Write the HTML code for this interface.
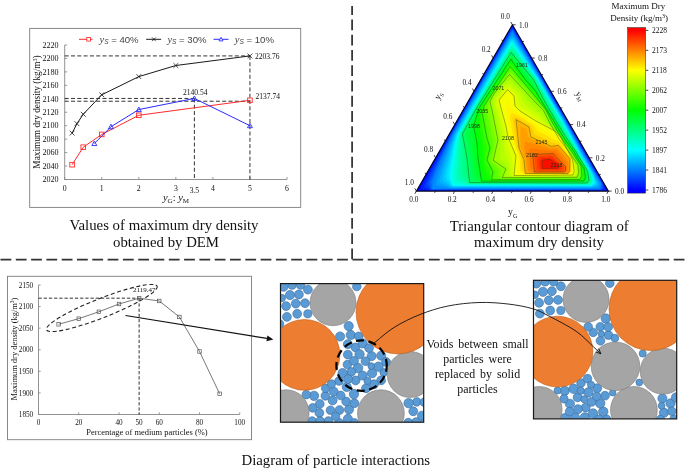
<!DOCTYPE html>
<html lang="en"><head><meta charset="utf-8"><title>Graphical abstract</title>
<style>
html,body{margin:0;padding:0;background:#fff;}
body{width:685px;height:469px;overflow:hidden;}
svg{display:block;}
.se{font-family:"Liberation Serif", serif;}
.sa{font-family:"Liberation Sans", sans-serif;}
</style></head><body>
<svg width="685" height="469" viewBox="0 0 685 469">
<rect x="0" y="0" width="685" height="469" fill="#fff"/>
<g id="chart1">
<rect x="29.7" y="28.4" width="271" height="179" fill="#fff" stroke="#7d7d7d" stroke-width="0.9"/>
<line x1="64.7" y1="45" x2="64.7" y2="179.5" stroke="#808080" stroke-width="0.85" />
<line x1="64.7" y1="179.5" x2="287" y2="179.5" stroke="#808080" stroke-width="0.85" />
<line x1="64.7" y1="179.5" x2="67.2" y2="179.5" stroke="#808080" stroke-width="0.8" />
<text class="se" x="58.6" y="182.2" font-size="8.1" text-anchor="end" fill="#111" >2020</text>
<line x1="64.7" y1="166.05" x2="67.2" y2="166.05" stroke="#808080" stroke-width="0.8" />
<text class="se" x="58.6" y="168.75" font-size="8.1" text-anchor="end" fill="#111" >2040</text>
<line x1="64.7" y1="152.6" x2="67.2" y2="152.6" stroke="#808080" stroke-width="0.8" />
<text class="se" x="58.6" y="155.3" font-size="8.1" text-anchor="end" fill="#111" >2060</text>
<line x1="64.7" y1="139.15" x2="67.2" y2="139.15" stroke="#808080" stroke-width="0.8" />
<text class="se" x="58.6" y="141.85" font-size="8.1" text-anchor="end" fill="#111" >2080</text>
<line x1="64.7" y1="125.7" x2="67.2" y2="125.7" stroke="#808080" stroke-width="0.8" />
<text class="se" x="58.6" y="128.4" font-size="8.1" text-anchor="end" fill="#111" >2100</text>
<line x1="64.7" y1="112.25" x2="67.2" y2="112.25" stroke="#808080" stroke-width="0.8" />
<text class="se" x="58.6" y="114.95" font-size="8.1" text-anchor="end" fill="#111" >2120</text>
<line x1="64.7" y1="98.8" x2="67.2" y2="98.8" stroke="#808080" stroke-width="0.8" />
<text class="se" x="58.6" y="101.5" font-size="8.1" text-anchor="end" fill="#111" >2140</text>
<line x1="64.7" y1="85.35" x2="67.2" y2="85.35" stroke="#808080" stroke-width="0.8" />
<text class="se" x="58.6" y="88.05" font-size="8.1" text-anchor="end" fill="#111" >2160</text>
<line x1="64.7" y1="71.9" x2="67.2" y2="71.9" stroke="#808080" stroke-width="0.8" />
<text class="se" x="58.6" y="74.6" font-size="8.1" text-anchor="end" fill="#111" >2180</text>
<line x1="64.7" y1="58.45" x2="67.2" y2="58.45" stroke="#808080" stroke-width="0.8" />
<text class="se" x="58.6" y="61.15" font-size="8.1" text-anchor="end" fill="#111" >2200</text>
<line x1="64.7" y1="45" x2="67.2" y2="45" stroke="#808080" stroke-width="0.8" />
<text class="se" x="58.6" y="47.7" font-size="8.1" text-anchor="end" fill="#111" >2220</text>
<line x1="64.7" y1="179.5" x2="64.7" y2="177" stroke="#808080" stroke-width="0.8" />
<text class="se" x="64.7" y="191.4" font-size="7.8" text-anchor="middle" fill="#111" >0</text>
<line x1="101.75" y1="179.5" x2="101.75" y2="177" stroke="#808080" stroke-width="0.8" />
<text class="se" x="101.75" y="191.4" font-size="7.8" text-anchor="middle" fill="#111" >1</text>
<line x1="138.8" y1="179.5" x2="138.8" y2="177" stroke="#808080" stroke-width="0.8" />
<text class="se" x="138.8" y="191.4" font-size="7.8" text-anchor="middle" fill="#111" >2</text>
<line x1="175.85" y1="179.5" x2="175.85" y2="177" stroke="#808080" stroke-width="0.8" />
<text class="se" x="175.85" y="191.4" font-size="7.8" text-anchor="middle" fill="#111" >3</text>
<line x1="212.9" y1="179.5" x2="212.9" y2="177" stroke="#808080" stroke-width="0.8" />
<text class="se" x="212.9" y="191.4" font-size="7.8" text-anchor="middle" fill="#111" >4</text>
<line x1="249.95" y1="179.5" x2="249.95" y2="177" stroke="#808080" stroke-width="0.8" />
<text class="se" x="249.95" y="191.4" font-size="7.8" text-anchor="middle" fill="#111" >5</text>
<line x1="287" y1="179.5" x2="287" y2="177" stroke="#808080" stroke-width="0.8" />
<text class="se" x="287" y="191.4" font-size="7.8" text-anchor="middle" fill="#111" >6</text>
<text class="se" x="194.38" y="192.7" font-size="7.6" text-anchor="middle" fill="#111" >3.5</text>
<text class="se" x="176" y="201" font-size="10.5" text-anchor="middle" fill="#111"><tspan font-style="italic">y</tspan><tspan font-size="7" dy="1.5">G</tspan><tspan dy="-1.5">: </tspan><tspan font-style="italic">y</tspan><tspan font-size="7" dy="1.5">M</tspan></text>
<text class="se" transform="translate(40,112) rotate(-90)" font-size="9.3" text-anchor="middle" fill="#111">Maximum dry density (kg/m<tspan font-size="6" dy="-3">3</tspan><tspan dy="3">)</tspan></text>
<line x1="64.7" y1="55.92" x2="249.95" y2="55.92" stroke="#333" stroke-width="1.0" stroke-dasharray="4 2.3"/>
<line x1="64.7" y1="98.44" x2="194.38" y2="98.44" stroke="#333" stroke-width="1.0" stroke-dasharray="4 2.3"/>
<line x1="64.7" y1="101.22" x2="249.95" y2="101.22" stroke="#333" stroke-width="1.0" stroke-dasharray="4 2.3"/>
<line x1="194.38" y1="98.44" x2="194.38" y2="179.5" stroke="#333" stroke-width="1.0" stroke-dasharray="4 2.3"/>
<line x1="249.95" y1="55.92" x2="249.95" y2="179.5" stroke="#333" stroke-width="1.0" stroke-dasharray="4 2.3"/>
<polyline points="72.11,133.1 76.93,123.68 83.22,114.27 101.75,94.77 138.8,76.61 175.85,65.51 249.95,55.92" fill="none" stroke="#1a1a1a" stroke-width="1.0" />
<path d="M69.71 130.7L74.51 135.5M69.71 135.5L74.51 130.7" stroke="#1a1a1a" stroke-width="0.8" fill="none"/>
<path d="M74.53 121.28L79.33 126.08M74.53 126.08L79.33 121.28" stroke="#1a1a1a" stroke-width="0.8" fill="none"/>
<path d="M80.82 111.87L85.62 116.67M80.82 116.67L85.62 111.87" stroke="#1a1a1a" stroke-width="0.8" fill="none"/>
<path d="M99.35 92.36L104.15 97.17M99.35 97.17L104.15 92.36" stroke="#1a1a1a" stroke-width="0.8" fill="none"/>
<path d="M136.4 74.21L141.2 79.01M136.4 79.01L141.2 74.21" stroke="#1a1a1a" stroke-width="0.8" fill="none"/>
<path d="M173.45 63.11L178.25 67.91M173.45 67.91L178.25 63.11" stroke="#1a1a1a" stroke-width="0.8" fill="none"/>
<path d="M247.55 53.52L252.35 58.32M247.55 58.32L252.35 53.52" stroke="#1a1a1a" stroke-width="0.8" fill="none"/>
<polyline points="72.11,164.71 83.22,147.22 101.75,134.44 138.8,115.28 249.95,100.32" fill="none" stroke="#ff2a2a" stroke-width="1.0" />
<rect x="69.81" y="162.41" width="4.6" height="4.6" fill="none" stroke="#ff2a2a" stroke-width="0.9"/>
<rect x="80.92" y="144.92" width="4.6" height="4.6" fill="none" stroke="#ff2a2a" stroke-width="0.9"/>
<rect x="99.45" y="132.14" width="4.6" height="4.6" fill="none" stroke="#ff2a2a" stroke-width="0.9"/>
<rect x="136.5" y="112.98" width="4.6" height="4.6" fill="none" stroke="#ff2a2a" stroke-width="0.9"/>
<rect x="247.65" y="98.02" width="4.6" height="4.6" fill="none" stroke="#ff2a2a" stroke-width="0.9"/>
<polyline points="94.34,143.52 111.01,126.71 138.8,109.56 194.38,98.44 249.95,125.7" fill="none" stroke="#2b2bff" stroke-width="1.0" />
<polygon points="94.34,141.02 96.84,145.52 91.84,145.52" fill="none" stroke="#2b2bff" stroke-width="0.9" />
<polygon points="111.01,124.21 113.51,128.71 108.51,128.71" fill="none" stroke="#2b2bff" stroke-width="0.9" />
<polygon points="138.8,107.06 141.3,111.56 136.3,111.56" fill="none" stroke="#2b2bff" stroke-width="0.9" />
<polygon points="194.38,95.94 196.88,100.44 191.88,100.44" fill="none" stroke="#2b2bff" stroke-width="0.9" />
<polygon points="249.95,123.2 252.45,127.7 247.45,127.7" fill="none" stroke="#2b2bff" stroke-width="0.9" />
<text class="se" x="255" y="59.3" font-size="7.55" text-anchor="start" fill="#111" >2203.76</text>
<text class="se" x="255.5" y="99.3" font-size="7.55" text-anchor="start" fill="#111" >2137.74</text>
<text class="se" x="183" y="94.5" font-size="7.55" text-anchor="start" fill="#111" >2140.54</text>
<line x1="79" y1="39.3" x2="92.5" y2="39.3" stroke="#ff2a2a" stroke-width="1.0" />
<rect x="86.8" y="37.5" width="3.6" height="3.6" fill="#fff" stroke="#ff2a2a" stroke-width="0.85"/>
<text class="sa" x="99.5" y="42.5" font-size="9.6" fill="#444"><tspan class="se" font-style="italic" font-size="10.5">y</tspan><tspan font-style="italic" font-size="6.5" dy="1.6">S</tspan><tspan dy="-1.6"> = 40%</tspan></text>
<line x1="146.2" y1="39.3" x2="161.1" y2="39.3" stroke="#1a1a1a" stroke-width="1.0" />
<path d="M152 37.4L155.8 41.2M152 41.2L155.8 37.4" stroke="#1a1a1a" stroke-width="0.8" fill="none"/>
<text class="sa" x="167.4" y="42.5" font-size="9.6" fill="#444"><tspan class="se" font-style="italic" font-size="10.5">y</tspan><tspan font-style="italic" font-size="6.5" dy="1.6">S</tspan><tspan dy="-1.6"> = 30%</tspan></text>
<line x1="213.5" y1="39.3" x2="228.5" y2="39.3" stroke="#2b2bff" stroke-width="1.0" />
<polygon points="221,37.3 223,40.9 219,40.9" fill="#fff" stroke="#2b2bff" stroke-width="0.9" />
<text class="sa" x="234.8" y="42.5" font-size="9.6" fill="#444"><tspan class="se" font-style="italic" font-size="10.5">y</tspan><tspan font-style="italic" font-size="6.5" dy="1.6">S</tspan><tspan dy="-1.6"> = 10%</tspan></text>
</g>
<g id="ternary">
<polygon points="512.4,24.8 608.4,191.1 416.4,191.1" fill="#000bff" stroke="none" stroke-width="1" />
<path d="M512.3 26.7L511.3 28.2L511 28.3L449 135.7L446.5 140.5L444.3 144L442.8 147.2L441.3 149.5L440.3 151.7L439.5 152.8L436.8 158L430.5 169.2L426.7 176.7L425.8 177.8L420.5 188.8L430.3 190.7L601.7 190.7L606 189.8L603.7 184L523.2 44.5L519.2 38L514.5 29.7Z" fill="#0020ff"/>
<path d="M512.3 28L510.7 29.8L451.3 132.5L436.8 159.8L436.5 160.8L432.2 168.7L427 179L423.8 186.8L428.8 189.5L431.3 190.3L600.7 190.3L604.3 189L603.3 184.5L602.7 183L589.3 160.3L566.5 120.2L555.7 101.8L532.2 60.8L528.8 55.5L514 29.8Z" fill="#0035ff"/>
<path d="M512.3 29L511.3 29.8L451.2 133.8L432.7 170.5L429.8 177L428.3 179.8L427.2 183.2L426.8 184.8L426.5 185.3L430.5 189.5L431.2 189.8L600.8 189.8L601.5 189.5L603.2 188.2L602.8 184.7L602.3 183.2L596.8 174.2L583.8 151.7L566.2 120.3L555.3 102L540.2 75.3L513.7 30.3Z" fill="#004aff"/>
<path d="M512 30L510.8 31.5L504.3 43L490.2 67L451 135.2L440.2 157.7L439 160.5L434.3 169.8L432.7 174.2L432.3 174.5L431 178L429.8 180.3L428.8 184L431 189L431.7 189.5L600.3 189.5L600.7 189.3L602.2 187.7L602.2 183.7L597.3 175.8L581.2 147.8L568.2 124.5L550 93.5L541.8 78.8L530 59.2L513.3 30.7L512.3 29.8Z" fill="#0060ff"/>
<path d="M512 30.7L482 82L452 134.3L447.8 143.2L446.7 146.2L445 149.3L442.2 156L441.5 157L438.7 163.7L436.5 168L432.3 178.7L431.3 180.7L430.8 183.3L431.2 184.3L431.2 186L431.5 187L431.7 189L431.8 189.2L600.2 189.2L601.3 187.2L601.8 184.3L601.7 183.5L596.2 174.7L582.7 151.3L565.7 120.8L554.7 102.3L542.2 80.2L520.2 43.5L512.8 30.8L512.3 30.5Z" fill="#0075ff"/>
<path d="M512.3 31.2L482.5 82.2L453 133.7L448.5 143.5L436.7 170.8L432.7 181.8L432.2 188.7L599.8 188.7L601.3 184.2L601 183.3L595.7 174.8L582.2 151.5L565.2 120.8L551.5 97.8L541.7 80.2Z" fill="#008aff"/>
<path d="M512.3 34.3L509.5 37.8L507.3 41.3L499.5 55L483.2 82.5L453.7 134.2L449.5 144.2L448.7 146.8L447.8 148.5L447.5 149.8L446.2 152.8L446.2 153.3L445.7 154.2L442.8 162L442.3 162.8L442.3 163.3L441.7 164.5L440.8 167.2L438.8 172L435.8 182.5L435.8 185.3L447.7 187.7L451.3 188.2L592.7 188.2L598.8 187.3L600 184.2L598.3 180.7L595.2 175.2L594.8 174.2L581 150.5L564.8 121.2L551.2 98.2L541.3 80.5L519.5 45.2L515.5 38.3Z" fill="#009fff"/>
<path d="M512.3 36.7L509.7 39.2L508.2 41.5L480.7 88.5L474.2 100L471.2 104.8L455.2 133.2L453.7 136.5L450.7 144.5L450.7 145L450.3 145.5L450.3 146L446.3 157.3L445.8 159.3L443.7 165.2L442.8 168.2L441.8 170.5L440.2 177L440.2 177.8L439.8 178.5L439.3 182.5L448.8 186.7L451.5 187.5L592.5 187.5L597.8 186L598.5 184.7L598 182.3L595 176.3L594.3 174.5L580.5 150.8L563.2 119.2L550.7 98.2L539.3 78.2L534.8 71.3L515.7 40.5L514 38.2Z" fill="#00b5ff"/>
<path d="M511.8 38.7L510.3 39.8L508.7 42.3L470.8 107L455.7 134L452.3 143.2L448.3 157.3L447.5 159.5L447.5 160.2L444.3 170.2L443.2 175.7L442.7 180.2L450 185.8L452.2 187L591.8 187L597 184.7L596.8 182L593.5 174.2L580.2 151.3L563 119.8L550.5 98.8L539.3 79.2L514 39.8L512.5 38.5Z" fill="#00caff"/>
<path d="M511.2 40.3L509.8 42L482.8 88L481.2 91.2L472.7 105.3L456.5 134.3L453.7 142.5L449.8 158.3L449.5 159L449.5 159.7L449.2 160.3L449.2 161L446.5 170.7L445.7 176.8L445.8 178.5L451 185.2L452 186.2L453 186.5L591 186.5L592.3 186L595 184.3L595.7 183.7L595.8 183.2L595.7 181.3L592.5 173.5L578.7 149.8L575.3 143.3L571 135.8L562.7 120.2L550.2 99.2L539 79.7L513.5 40.8L512.7 40L511.8 40Z" fill="#00dfff"/>
<path d="M511.5 41.2L510.5 42.5L472.2 107.8L457.2 134.8L454.3 144.3L452.7 153.2L448.7 171.5L448.5 176.8L448.8 178.3L451 182.5L452.2 185.3L452.7 185.8L591.3 185.8L594 183.7L594.8 182.5L594.7 181L594.3 180.5L592.7 175.2L578.2 150.2L562.3 120.5L548.2 96.7L538 79L530.5 68.2L529.5 66.3L523.7 58L522.7 56.2L520 52.5L513.7 42.8L512.3 41.2Z" fill="#00f4ff"/>
<path d="M511.8 42L472.8 108.2L458 135L455.5 144.3L452.8 161.3L451 170.7L451 178.2L453 185.3L591 185.3L594 182L592.2 175.3L577.7 150.3L562 120.8L547.8 97L538.2 80.2Z" fill="#00fff4"/>
<path d="M511.8 43.5L506.5 51.7L483.3 91.3L474.3 106.2L460 131.8L458.3 135.2L458 137.5L457.3 139.3L457 141.5L456.3 143.7L455.7 149.5L455 152.8L455 154.3L454 160L454 161.3L452.3 170.8L452.3 177.8L454 184L463.3 184.7L463.5 184.8L465.8 184.8L466 185L557.5 185L557.7 185.2L590.8 185L593.5 181.8L591.8 175.5L589.5 170.8L578.2 151.5L577 149.2L576.2 148.2L561.5 120.8L547.3 97L546 94.3L537.8 80.3L524.8 61.5L522.5 58.5L516 48.8L513.2 45L512.8 44.8L512.2 43.7Z" fill="#00ffdf"/>
<path d="M512 45.3L510.7 46.7L508.5 49.5L492.5 76.7L489.5 81.3L481.5 95.2L478.5 99.8L473.5 108.3L459.3 134L458.8 135.3L459 135.5L457.3 143.5L456.8 148L457 148.2L456.5 151.5L456.5 153.3L455.8 158.2L456 158.3L454.3 170.2L454.3 177.3L455.5 182.2L466.5 184.5L469.5 184.8L588.2 184.8L590.5 184.5L592.2 182.7L592.8 181.5L591.3 176L591.3 175.3L588.5 169.7L577.8 151.7L576.3 148.7L569.7 137.2L568.8 135.3L568.2 134.5L562.3 123.5L544.7 93.5L543.8 91.7L540 85.3L537.5 80.5L514 47.5Z" fill="#00ffca"/>
<path d="M511.8 47.2L509.5 49.3L507.5 52.3L485.8 88.8L474.8 106.8L460.7 132.3L459.8 134.2L459.5 135.3L459.3 138L458.3 145L458.5 145.2L458.3 145.3L458.3 148.5L458 151.7L457.8 158.3L456.7 170L456.8 177.5L457.3 179.7L466.3 183.7L468.3 184.3L587.8 184.5L590.2 183.8L592 181.7L592 180.5L590.8 175.5L589.7 173.2L589.5 172.3L589.2 172L589 171.2L587.8 169L585 164.5L572.2 142.2L571 140.5L560.5 121.7L545.2 95.7L537.2 81L534.5 77L514 49L512.2 47.2Z" fill="#00ffb5"/>
<path d="M511.2 49.2L509.8 50.2L508 52.8L494.3 75.8L474.5 108.3L460.8 133.2L460.2 135.7L460 142L459.8 142.2L459.8 160L459.7 160.2L459.8 161L459.7 161.2L459.7 164.3L459.5 164.5L459.5 167.7L459.3 167.8L459.5 176.8L467.8 183.5L469 184L587.5 184.2L589.8 183.2L591.3 181.2L591.2 179.5L590.3 175.8L588.3 170.5L580.3 157.2L576.3 150L568.2 136.8L559.8 122L544.5 96L543.3 93.5L535.5 79.3L513.8 50.3L512.2 48.8Z" fill="#00ff9f"/>
<path d="M510.5 50.8L509.7 51.7L500.7 66.7L495.5 74.8L493.2 79L487.2 88.5L484.8 92.7L475.7 107.3L461.2 133.8L461 134.8L461.2 145L461.3 145.2L461.5 150.3L461.7 150.5L462 158.2L462.2 158.3L462 158.7L462.2 158.8L462.2 172.8L462.3 174.2L466 179.3L467.5 181.8L469.2 183.5L557.7 183.7L557.8 183.8L587 183.8L587.7 183.7L589.5 182.3L590.5 180.8L590.5 179.7L589.7 175.8L588.7 173L588.3 171.3L587.7 170L576.2 150.8L575.7 149.7L574.8 148.7L574.5 147.8L568.5 138.7L567 135.8L565.3 133.3L564.7 131.8L559.7 123.7L559.2 122.5L556.5 118.3L544.2 97L534.7 79.2L513 51L512.2 50.3Z" fill="#00ff8a"/>
<path d="M510.8 51.7L507 57.5L504.7 61.7L496.8 74L489.2 86.8L475.3 109L461.8 133.7L462 138.2L464.7 159.3L465.2 171.3L465.5 171.8L465.5 172.3L469.2 182.8L469.7 183.2L557.5 183.2L557.7 183.3L587.2 183.3L587.5 183.2L589.3 181.2L589.7 180.5L589.7 179.3L589 175.7L588.7 175.2L588 171.5L587.5 170.3L575.7 150.5L567.5 138.3L561.8 128.7L560.3 126.5L559.8 125.3L556.3 119.8L547.7 104.5L543.2 97L534.2 79.5L512.3 52L511.8 51.7Z" fill="#00ff75"/>
<path d="M511.2 52.5L475.8 109.2L462.3 134L467 157.7L469.7 182.7L587 183L589 180L587.7 171.7L587.2 170.3L575.3 150.7L567 138.8L555.7 120.5L542.7 97.8L533.7 79.8Z" fill="#00ff60"/>
<path d="M511 55.3L508.5 58.3L506.2 62.3L498.2 74.7L490.8 86.7L488.8 89.5L483.2 98.8L477.7 107.3L469.2 124.8L465.8 134.2L465.8 135.3L467.5 143.2L469.2 154.3L469.8 157.3L472.3 179.7L480.5 182.2L584 182.5L586.5 182L587.8 179.8L587.7 178.8L587.8 178L586.7 171.2L585.2 168L574.8 150.8L566.5 139.2L555.7 121.5L542 98.2L537.5 89.3L536 87.2L532.7 81.2L528.8 76.7L513.7 57.3L511.5 55.2Z" fill="#00ff4a"/>
<path d="M510.5 57.3L509 59L478.3 107.2L470.5 125.8L469.2 134.2L469.2 136L471 145.3L471.3 149.3L471.7 150.5L471.7 151.8L472 153L472.8 161L473.3 163.5L473.7 167.5L475 176.8L481 181.8L584 182L585.2 181.7L586 181L586.8 179.3L586.8 176.2L586 171.3L584.3 167.3L574.5 151L566.5 140L564.3 136.7L542 99.5L536.8 89.8L534 86L531.3 81.8L527 76.8L512.5 57.7L511.5 56.8Z" fill="#00ff35"/>
<path d="M510.7 58.3L510 59L504 68.2L498.3 77.3L478.8 107.3L478 109.2L476.8 113L476.2 114.3L472.2 125.7L472.3 136L473.8 143L475.3 159L477.5 174.2L481 181.2L481.3 181.5L532.8 181.5L533 181.3L584 181.5L584.3 181.3L585.3 180.2L585.8 179L586.2 176.3L585.3 171.7L584 167.7L573.7 150.5L564.8 138.5L557.7 126.3L554.3 121.2L552.8 118.3L546.2 107.7L544.7 104.8L540.5 98.3L536.5 90.8L530.8 83.8L530.7 83.3L525.8 77.8L512 58.8L511.5 58.3Z" fill="#00ff20"/>
<path d="M510.8 59.2L479.2 107.7L473.7 125.8L477 142.7L478 158.5L478.3 159.7L478.5 161.8L478.8 163L481.5 181.2L584 181L585.5 177.2L584.2 169L579.2 160.3L573 150.2L564.5 138.8L553.3 120L540 98.7L535.8 91.2L525.2 79.5Z" fill="#00ff0b"/>
<path d="M510.7 62.2L508.2 64.8L481.5 105.7L481.5 106L480.2 108.2L478.5 114.2L476.5 126.5L480 144L480 145.5L480.3 146.7L480.3 148.7L480.5 148.8L480.3 150.3L480.5 160.2L481 163.3L483.5 173.7L483.8 178.5L484.8 179L490.3 180.7L581.2 180.5L583.2 180L584.5 177L584.3 176.5L584.5 176L583.8 173L583.3 168.8L580.8 163.8L575.5 155.5L572.5 150.3L564 139.2L550.3 116.3L546.5 109.5L539.3 98.8L535 91.7L524.3 79.8L513.2 64.5L511 62.2Z" fill="#0bff00"/>
<path d="M509.8 64.5L508.7 65.7L482.8 105L481.2 108.7L479.8 113.8L479.5 122.8L479.3 123L479.3 127.2L483.5 147.7L483.3 151.7L483 153.2L483 155.2L482.7 157.5L482.7 160.3L483.3 163.3L483.7 163.8L485 168.7L486.5 173L486.7 175.8L489.3 179L491 180.3L580.5 180.2L582.3 179.2L583.5 177L583.5 174.8L582.7 169L581.3 165.3L571.8 150.2L562.8 138.3L561.3 135.5L551.8 119.8L546.3 109.7L534.3 92.3L523.5 80L512.3 65.3L511 64Z" fill="#20ff00"/>
<path d="M509.8 65.7L505.3 72.2L494.7 88.7L483.5 105.3L482.5 108L481.2 113.3L481.2 116L481.3 116.2L482 127L484.2 138.2L486.7 147.7L486.7 148.7L485 157.8L484.8 160.5L489.3 172L490 172.8L491 179.7L491.3 180L580.2 179.8L582 178L582.8 176L582.5 174.7L582 169L581.7 168.3L581.3 166L571.5 150.5L562.3 138.7L550.8 119L545.8 109.3L540.8 102.8L540.7 102.3L536.7 97.2L536 96L533.5 93L533.3 92.5L522.8 80.5L511.5 66.2L510.7 65.5Z" fill="#35ff00"/>
<path d="M510.2 66.5L484.2 105.7L482.3 113.7L486.8 137.5L490 147.8L487 160.2L493 172L491.5 179.7L580 179.5L582 176L581.2 167L580.8 165.7L571.2 150.7L561.8 138.8L551.2 120.5L545.7 109.5L537 98.3Z" fill="#4aff00"/>
<path d="M510.3 69.5L508 71.7L490.5 97L487.3 102.7L485.7 106.8L485 114.2L489.5 137.2L490.3 139.8L491.2 145.7L491.5 146.7L491.5 148.8L488.7 159.8L490.3 163.5L495.3 170.8L495.7 171.7L495.7 172.8L494.7 177L499.5 178.7L502.2 179.2L578.3 178.8L579.5 178.5L581 175.7L580.8 175.5L581 174.5L580.2 166.2L579.2 164.2L570.5 150.8L562.3 140.5L561.2 138.2L559.3 135.8L551.5 122.5L545.3 110.2L529 90.5L526.2 87.5L512.8 71.8Z" fill="#60ff00"/>
<path d="M509.3 72.2L507.8 73.5L507.7 74L499.8 84.3L491.2 96.8L488.7 101.7L487.7 106.8L487.7 114.3L492 136.3L493 139.8L493.2 148.2L490.3 159.7L490.8 161.3L491.5 162.5L497.8 169.7L498.7 171L498.7 172.2L498 174.5L499.7 176.8L501 178.2L501.7 178.5L577.5 178.3L578.8 177.7L579.8 175.7L580.2 174L579.5 166.5L578.8 164.7L570.2 151.5L564.2 143.8L561.2 138.2L556.5 132.3L550 121.2L544.5 110L512.7 73.8L510.7 71.8Z" fill="#75ff00"/>
<path d="M509.2 73.7L497.7 88.2L495.7 91.3L491.8 96.5L489.3 102L489.7 109.2L490 110.5L490.3 114.5L493.2 128L494.3 134.7L495.7 140L494.8 147.5L492 159.3L492 160.3L492.3 161.2L499.7 167.7L502.2 170.2L501.8 173.2L502 173.7L501.8 173.8L501.8 176L501.7 176.2L501.8 177.8L502 178L577.2 177.8L578.2 176.8L579 175L579.5 173.2L578.8 167L578.5 166.3L578.3 164.8L569.8 152.2L565.5 146.5L561.2 138.2L556.2 131.8L555.2 131.2L550 122.5L544 110.3L534.3 100L511.7 74.8L510.2 73.5Z" fill="#8aff00"/>
<path d="M509.5 74.8L498.2 88.5L492.3 96.7L490.2 101.8L492.3 110.5L498.2 139.7L497 144.8L497 146.2L493.7 160.2L496.5 162L496.8 162.5L500.2 164.7L506 169L502.5 177.5L576.8 177.2L578.7 173.2L577.8 165.7L577.5 164.5L567.5 150.2L561.2 138.2L555.7 131.3L554.2 130.7L553.5 129.8L549.7 123.3L543.3 110.5L532 99.2L526.7 93.3L526.7 93Z" fill="#9fff00"/>
<path d="M508 81.2L504.8 83.8L503 85.8L496.5 94.2L494 97.7L492.7 101.8L492.7 102.7L494.7 110.2L496.7 120L498.7 128.3L500.8 139.5L499.7 157.8L507.7 167L508.2 168L508.2 169.8L506.5 175L512.7 177L573.8 176.7L576.2 176.2L577.3 173L577.3 170.2L576.7 165.3L573 158.3L571.5 156.3L569.2 152.3L567.5 150.2L561.2 138.2L555.7 131.3L554.2 130.7L547.5 122.3L540.7 112.7L527.2 100.3L522.2 92.7L515.3 85.2L511.8 81.7L509.7 80Z" fill="#b5ff00"/>
<path d="M505.3 86.3L501.5 90.8L495.7 98.5L495.2 100L495 102.7L500.7 125.5L503.3 139.5L503.7 140.2L505 155.7L506.7 157.7L509.7 164.3L510.2 166L510.5 169.2L509.7 172.7L510.2 173.5L512.7 176.2L513.3 176.5L573.7 176L575.3 175L576.2 172.7L576.2 169.8L575.5 165.3L573.5 160L569.7 153.5L567.8 150.8L560.7 137.5L555.7 131.3L553.8 130.5L537.7 114.3L526.5 105.5L523.7 102.8L522.5 101.2L521 97.3L519 93.3L510.7 84.7L509.7 84.2L507.7 84.8Z" fill="#caff00"/>
<path d="M506.8 87.8L505.5 89.2L497.7 98.8L497.2 100L497.3 102.7L498.8 108.7L499.8 111.8L500.8 116.5L501.5 118.3L501.7 119.7L503.7 126.8L505.7 138L506.5 140L508.2 146.5L508.2 147.2L509.7 152.3L509.7 153L510 154L510.5 154.5L511.8 157L512.7 164L512.7 169.3L512.3 170.8L513.5 175.8L513.7 176L550.8 175.8L551 175.7L565.5 175.7L565.7 175.5L573.2 175.5L573.5 175.3L574.5 173.8L575.2 171.7L575.2 170.3L574.5 165.7L574.2 165L573.5 161.7L573.2 161.2L573 159.7L569 153L560.7 137.5L555.7 131.3L553.5 130.3L537.8 119L534 115.8L522.8 108L518.8 104L517.7 98.8L517.2 97.5L517.2 96.8L516.2 94.3L509.7 87.8L508.8 87.5Z" fill="#dfff00"/>
<path d="M507.7 90.2L499.8 99.3L499.3 100.3L500.7 105.2L500.5 105.7L506.3 126.5L508.2 137.2L516.2 155.8L514.2 175.5L572.8 174.8L573.8 171.8L574 170.5L572.5 159.7L560.5 137.5L555.7 131.5L535.5 121L520.2 111.3L514.8 106L514.2 99L513.8 98.5L513.7 96Z" fill="#f4ff00"/>
<path d="M506.5 101.8L506.7 115.2L507 116.3L507.3 119.5L509 126.3L510.5 136.3L510.8 136.8L510.8 137.3L511.2 137.8L511.2 138.3L511.5 138.8L511.5 139.3L511.8 139.8L514.8 149.2L517.7 156L517.7 161.3L517.8 161.8L517.7 162L517.7 165.3L517.5 165.5L517.2 172.8L524 174.8L565.3 174.7L565.5 174.5L569 174.5L571.8 173.8L572.2 173.5L572.8 171.3L572.8 169.5L572.2 164L572 160.3L571.5 158.7L562.5 143.8L559.7 139.8L558.5 138.7L553 134.5L541.3 128.7L536.2 124.2L533.7 122.3L518.7 113.2L515.5 110.8L512 108.8L510.8 107.8L509.7 105.8L507.5 101Z" fill="#fff400"/>
<path d="M511 113.5L510.3 115.8L510.3 119.7L511.3 124.3L512.7 134.7L516.2 148.5L519.2 156L520 161.3L519.8 162.3L520 168.7L519.8 169.3L520 170.5L521.3 171.5L524 174L524.7 174.3L568.3 174.2L571.3 172.5L571.8 170.7L571.7 170.5L571.7 166.8L571.3 164.2L571.3 160.3L570.8 158.3L567.3 153.5L566.8 152.5L566.2 151.8L563.8 148.2L563.2 147.5L560.8 143.8L559.7 142.5L556.7 140.7L552.3 139L551 137.8L538 131.5L533.8 125.8L532.3 124.2L523.3 118.5L521.3 117.5L518.8 115.8L515.7 114.3L513.3 113.7Z" fill="#ffdf00"/>
<path d="M513.5 117.8L513.3 120.5L514 124.2L514.7 131L515 132.2L515.2 134.7L515.7 136.5L515.7 137.7L516 138.5L516.5 142.3L517.2 145L517.3 147L517.7 148.5L520.2 154.2L522 160.3L522.3 168L525 173.8L568.2 173.8L570.3 171.8L570.7 171.2L570.7 164.3L570.5 164.2L570.7 160.5L570.3 158.5L559.3 144.3L558 143.7L551.8 143L548.8 141L534.5 134.3L530.8 125.8L530.3 125.3L517 117.5L516 117.2L514.8 117.2Z" fill="#ffca00"/>
<path d="M516.2 119.8L519.2 148.2L524.2 159.8L525.5 173.3L568 173.3L569.5 171L569.8 158.7L558.3 145.5L551 146.5L545.2 143.5L531 137.2L530.7 136.5L528.8 127Z" fill="#ffb500"/>
<path d="M520.3 126.2L520.2 127.2L520.3 132L520.2 132.2L520.3 132.3L520.3 139.2L520.5 139.3L520.3 139.5L520.5 140.8L520.3 141.8L520.5 142L520.5 145.5L520.7 145.7L520.5 146.8L520.8 148.5L522.7 153.3L523 154.8L525 159.5L526.3 172.5L533.8 173.3L564.7 173.3L564.8 173.2L567 173.2L568 172.7L569.2 170.8L569.3 164.5L569 161.8L569.2 161.7L569 159L558 146.5L554.5 146.7L553.2 147L550.7 147.2L545 144.5L544.5 144.5L529.7 138.5L528.8 137.3L526.3 129Z" fill="#ff9f00"/>
<path d="M525.3 141.2L524.3 145.8L524.3 148L524.7 150L524.5 150.3L525.5 155L526.8 158.7L528 170.5L532.8 172.7L534.2 173L564.3 173L567.2 172.3L568.3 170.5L568.3 165.3L567.2 159.8L557.2 148.5L555.8 148.3L555.7 148.5L550 148.7L544.7 146.8L543.3 146.7L542.3 146.2L540.5 145.8L534 143.8L533.3 143.8L532.8 143.5L528.7 142.7Z" fill="#ff8a00"/>
<path d="M529.8 149.3L528.7 152.3L528.7 154.5L529.7 159L530.5 167.5L530.8 168.3L534.2 172.5L564.3 172.5L566.7 171.2L567 170.3L567 166L565.2 162.5L564.7 161L556 151.3L554.8 150.8L550.5 151L547.2 150.7L541.5 149.7L540 149.7L537.8 149.2L537.5 149.3L531.8 148.5L531.5 148.7L530.7 148.5Z" fill="#ff7500"/>
<path d="M565.5 166.8L553.3 153.5L532.5 154.5L534.5 172L564 172L565.5 170.5Z" fill="#ff6000"/>
<path d="M564.2 167.5L561.8 164L552.5 154.7L540 155.3L534.7 156.3L534.8 160.5L535.3 163.8L535.8 170.5L539.7 171.2L542 171.2L542.2 171.3L560.2 171.2L563.3 170.7L564 170Z" fill="#ff4a00"/>
<path d="M537.2 158.5L537.2 162L537.5 164L537.7 168.5L540.2 170L541.3 170.3L558 170.3L559.8 170L562.2 168.7L562.2 167.8L560.8 164.7L552 156.3L548.8 156.2L547 156.5L542.2 156.7L539.2 157.3Z" fill="#ff3500"/>
<path d="M539.7 160.5L539.8 166L540.8 168.5L541.5 169.2L542 169.3L558.5 169.2L559.2 168.7L559.8 167.7L559.7 165.3L552.8 159.3L550.7 157.8L548.7 157.8L546.8 158.2L541.8 158.5L540.7 159Z" fill="#ff2000"/>
<path d="M542.7 160.7L542.7 167.8L557.7 167.7L558 166L550 159.8Z" fill="#ff0b00"/>
<polygon points="511.1,52.5 533.5,79.7 542.8,98 555.8,120.7 567.1,139 575.2,150.5 587.5,171 589,180 587,183 469.6,182.6 467,158 462.4,134 476,109" fill="none" stroke="#1c2a10" stroke-width="0.45" stroke-linejoin="round" opacity="0.85"/>
<polygon points="510.8,59.2 525.4,79.7 535.6,91 539.7,98 553.6,120.7 564.6,139 573.2,150.5 584,168.5 585.5,177 584,181 481.5,181.2 478,158 477,143 473.6,126 479,108" fill="none" stroke="#1c2a10" stroke-width="0.45" stroke-linejoin="round" opacity="0.85"/>
<polygon points="510.2,66.5 536.6,98 546,110 551.3,120.7 562,139 571,150.5 581,166 582,176 580,179.5 491.5,179.7 493,172 487,160 490,148 487,138 482.4,114 484,106" fill="none" stroke="#1c2a10" stroke-width="0.45" stroke-linejoin="round" opacity="0.85"/>
<polygon points="509.5,74.5 524,90 533.3,100.2 543.5,110.5 550,123.5 559.1,139 568,150.5 577.8,164.8 578.8,173 577,177.3 502.3,177.6 505.9,169 493.3,160.3 498,140 492,110 490,102 492,97 498.6,87.6" fill="none" stroke="#1c2a10" stroke-width="0.45" stroke-linejoin="round" opacity="0.85"/>
<polygon points="507.6,89.6 514,96 515,106 520,111 535.4,120.7 555.8,131.5 561,138 572.6,159.7 574.2,171 573,175 514,175.6 516,156 508,137 506,126 501,108 499,100" fill="none" stroke="#1c2a10" stroke-width="0.45" stroke-linejoin="round" opacity="0.85"/>
<polygon points="516,119.5 529,127 531,137 545,143.3 551,146.4 558.3,145.4 570,158.7 569.6,171 568,173.5 525.3,173.5 524,160 519,148" fill="none" stroke="#1c2a10" stroke-width="0.45" stroke-linejoin="round" opacity="0.85"/>
<polygon points="532.5,154.5 553.3,153.5 565.5,166.8 565.5,170.5 564,172 534.5,172" fill="none" stroke="#1c2a10" stroke-width="0.45" stroke-linejoin="round" opacity="0.85"/>
<polygon points="542.2,160.2 550,159.4 558.5,165.8 558,168.2 542.2,168.4" fill="none" stroke="#1c2a10" stroke-width="0.45" stroke-linejoin="round" opacity="0.85"/>
<polygon points="512.4,24.8 608.4,191.1 416.4,191.1" fill="none" stroke="#050520" stroke-width="1.15" stroke-linejoin="miter"/>
<line x1="416.4" y1="191.1" x2="414.8" y2="193.87" stroke="#111" stroke-width="0.8" />
<line x1="512.4" y1="24.8" x2="510.8" y2="22.03" stroke="#111" stroke-width="0.8" />
<line x1="608.4" y1="191.1" x2="611.6" y2="191.1" stroke="#111" stroke-width="0.8" />
<line x1="435.6" y1="191.1" x2="434.6" y2="192.83" stroke="#111" stroke-width="0.8" />
<line x1="502.8" y1="41.43" x2="501.8" y2="39.7" stroke="#111" stroke-width="0.8" />
<line x1="598.8" y1="174.47" x2="600.8" y2="174.47" stroke="#111" stroke-width="0.8" />
<line x1="454.8" y1="191.1" x2="453.2" y2="193.87" stroke="#111" stroke-width="0.8" />
<line x1="493.2" y1="58.06" x2="491.6" y2="55.29" stroke="#111" stroke-width="0.8" />
<line x1="589.2" y1="157.84" x2="592.4" y2="157.84" stroke="#111" stroke-width="0.8" />
<line x1="474" y1="191.1" x2="473" y2="192.83" stroke="#111" stroke-width="0.8" />
<line x1="483.6" y1="74.69" x2="482.6" y2="72.96" stroke="#111" stroke-width="0.8" />
<line x1="579.6" y1="141.21" x2="581.6" y2="141.21" stroke="#111" stroke-width="0.8" />
<line x1="493.2" y1="191.1" x2="491.6" y2="193.87" stroke="#111" stroke-width="0.8" />
<line x1="474" y1="91.32" x2="472.4" y2="88.55" stroke="#111" stroke-width="0.8" />
<line x1="570" y1="124.58" x2="573.2" y2="124.58" stroke="#111" stroke-width="0.8" />
<line x1="512.4" y1="191.1" x2="511.4" y2="192.83" stroke="#111" stroke-width="0.8" />
<line x1="464.4" y1="107.95" x2="463.4" y2="106.22" stroke="#111" stroke-width="0.8" />
<line x1="560.4" y1="107.95" x2="562.4" y2="107.95" stroke="#111" stroke-width="0.8" />
<line x1="531.6" y1="191.1" x2="530" y2="193.87" stroke="#111" stroke-width="0.8" />
<line x1="454.8" y1="124.58" x2="453.2" y2="121.81" stroke="#111" stroke-width="0.8" />
<line x1="550.8" y1="91.32" x2="554" y2="91.32" stroke="#111" stroke-width="0.8" />
<line x1="550.8" y1="191.1" x2="549.8" y2="192.83" stroke="#111" stroke-width="0.8" />
<line x1="445.2" y1="141.21" x2="444.2" y2="139.48" stroke="#111" stroke-width="0.8" />
<line x1="541.2" y1="74.69" x2="543.2" y2="74.69" stroke="#111" stroke-width="0.8" />
<line x1="570" y1="191.1" x2="568.4" y2="193.87" stroke="#111" stroke-width="0.8" />
<line x1="435.6" y1="157.84" x2="434" y2="155.07" stroke="#111" stroke-width="0.8" />
<line x1="531.6" y1="58.06" x2="534.8" y2="58.06" stroke="#111" stroke-width="0.8" />
<line x1="589.2" y1="191.1" x2="588.2" y2="192.83" stroke="#111" stroke-width="0.8" />
<line x1="426" y1="174.47" x2="425" y2="172.74" stroke="#111" stroke-width="0.8" />
<line x1="522" y1="41.43" x2="524" y2="41.43" stroke="#111" stroke-width="0.8" />
<line x1="608.4" y1="191.1" x2="606.8" y2="193.87" stroke="#111" stroke-width="0.8" />
<line x1="416.4" y1="191.1" x2="414.8" y2="188.33" stroke="#111" stroke-width="0.8" />
<line x1="512.4" y1="24.8" x2="515.6" y2="24.8" stroke="#111" stroke-width="0.8" />
<text class="se" x="505.4" y="18.9" font-size="7.3" text-anchor="middle" fill="#111" >0.0</text>
<text class="se" x="413.8" y="201.9" font-size="7.3" text-anchor="middle" fill="#111" >0.0</text>
<text class="se" x="486.2" y="52.1" font-size="7.3" text-anchor="middle" fill="#111" >0.2</text>
<text class="se" x="452.2" y="201.9" font-size="7.3" text-anchor="middle" fill="#111" >0.2</text>
<text class="se" x="467" y="85.3" font-size="7.3" text-anchor="middle" fill="#111" >0.4</text>
<text class="se" x="490.6" y="201.9" font-size="7.3" text-anchor="middle" fill="#111" >0.4</text>
<text class="se" x="447.8" y="118.5" font-size="7.3" text-anchor="middle" fill="#111" >0.6</text>
<text class="se" x="529" y="201.9" font-size="7.3" text-anchor="middle" fill="#111" >0.6</text>
<text class="se" x="428.6" y="151.7" font-size="7.3" text-anchor="middle" fill="#111" >0.8</text>
<text class="se" x="567.4" y="201.9" font-size="7.3" text-anchor="middle" fill="#111" >0.8</text>
<text class="se" x="409.4" y="184.9" font-size="7.3" text-anchor="middle" fill="#111" >1.0</text>
<text class="se" x="605.8" y="201.9" font-size="7.3" text-anchor="middle" fill="#111" >1.0</text>
<text class="se" x="523.6" y="27.5" font-size="7.3" text-anchor="middle" fill="#111" >1.0</text>
<text class="se" x="542.8" y="60.76" font-size="7.3" text-anchor="middle" fill="#111" >0.8</text>
<text class="se" x="562" y="94.02" font-size="7.3" text-anchor="middle" fill="#111" >0.6</text>
<text class="se" x="581.2" y="127.28" font-size="7.3" text-anchor="middle" fill="#111" >0.4</text>
<text class="se" x="600.4" y="160.54" font-size="7.3" text-anchor="middle" fill="#111" >0.2</text>
<text class="se" x="619.6" y="193.8" font-size="7.3" text-anchor="middle" fill="#111" >0.0</text>
<text class="se" x="508.1" y="215.4" font-size="9.8" fill="#111">y<tspan font-size="6.2" dy="2.3">G</tspan></text>
<text class="se" transform="translate(441,97) rotate(-60)" font-size="9" text-anchor="middle" fill="#111">y<tspan font-size="5.5" dy="1.5">S</tspan></text>
<text class="se" transform="translate(577.5,97.6) rotate(60)" font-size="9" text-anchor="middle" fill="#111">y<tspan font-size="5.5" dy="1.5">M</tspan></text>
<text class="sa" x="522" y="67.3" font-size="5.3" text-anchor="middle" fill="#1c2c14" >1961</text>
<text class="sa" x="498.4" y="89.8" font-size="5.3" text-anchor="middle" fill="#1c2c14" >2071</text>
<text class="sa" x="482.2" y="113" font-size="5.3" text-anchor="middle" fill="#1c2c14" >2035</text>
<text class="sa" x="474" y="127.6" font-size="5.3" text-anchor="middle" fill="#1c2c14" >1998</text>
<text class="sa" x="508" y="140.2" font-size="5.3" text-anchor="middle" fill="#1c2c14" >2108</text>
<text class="sa" x="541.5" y="143.8" font-size="5.3" text-anchor="middle" fill="#1c2c14" >2145</text>
<text class="sa" x="532" y="156.8" font-size="5.3" text-anchor="middle" fill="#1c2c14" >2182</text>
<text class="sa" x="556.5" y="167.3" font-size="5.3" text-anchor="middle" fill="#1c2c14" >2218</text>
<defs><linearGradient id="cbg" gradientUnits="userSpaceOnUse" x1="0" y1="190.2" x2="0" y2="30.2"><stop offset="0" stop-color="#0000ff"/><stop offset="0.25" stop-color="#00ffff"/><stop offset="0.5" stop-color="#00ff00"/><stop offset="0.75" stop-color="#ffff00"/><stop offset="1" stop-color="#ff0000"/></linearGradient></defs>
<rect x="627.6" y="27.6" width="18" height="165.5" fill="url(#cbg)" stroke="#222" stroke-width="0.5"/>
<line x1="645.8" y1="30.4" x2="648.3" y2="30.4" stroke="#111" stroke-width="0.8" />
<text class="se" x="652.1" y="33" font-size="7.5" text-anchor="start" fill="#111" >2228</text>
<line x1="645.8" y1="50.35" x2="648.3" y2="50.35" stroke="#111" stroke-width="0.8" />
<text class="se" x="652.1" y="52.95" font-size="7.5" text-anchor="start" fill="#111" >2173</text>
<line x1="645.8" y1="70.3" x2="648.3" y2="70.3" stroke="#111" stroke-width="0.8" />
<text class="se" x="652.1" y="72.9" font-size="7.5" text-anchor="start" fill="#111" >2118</text>
<line x1="645.8" y1="90.25" x2="648.3" y2="90.25" stroke="#111" stroke-width="0.8" />
<text class="se" x="652.1" y="92.85" font-size="7.5" text-anchor="start" fill="#111" >2062</text>
<line x1="645.8" y1="110.2" x2="648.3" y2="110.2" stroke="#111" stroke-width="0.8" />
<text class="se" x="652.1" y="112.8" font-size="7.5" text-anchor="start" fill="#111" >2007</text>
<line x1="645.8" y1="130.15" x2="648.3" y2="130.15" stroke="#111" stroke-width="0.8" />
<text class="se" x="652.1" y="132.75" font-size="7.5" text-anchor="start" fill="#111" >1952</text>
<line x1="645.8" y1="150.1" x2="648.3" y2="150.1" stroke="#111" stroke-width="0.8" />
<text class="se" x="652.1" y="152.7" font-size="7.5" text-anchor="start" fill="#111" >1897</text>
<line x1="645.8" y1="170.05" x2="648.3" y2="170.05" stroke="#111" stroke-width="0.8" />
<text class="se" x="652.1" y="172.65" font-size="7.5" text-anchor="start" fill="#111" >1841</text>
<line x1="645.8" y1="190" x2="648.3" y2="190" stroke="#111" stroke-width="0.8" />
<text class="se" x="652.1" y="192.6" font-size="7.5" text-anchor="start" fill="#111" >1786</text>
<text class="se" x="638.4" y="9" font-size="9.0" text-anchor="middle" fill="#111" >Maximum Dry</text>
<text class="se" x="639.2" y="21.4" font-size="9.0" text-anchor="middle" fill="#111">Density (kg/m<tspan font-size="6" dy="-3">3</tspan><tspan dy="3">)</tspan></text>
</g>
<g id="chart2">
<rect x="7.5" y="276.3" width="244" height="163.4" fill="#fff" stroke="#7d7d7d" stroke-width="0.9"/>
<line x1="38.5" y1="285" x2="38.5" y2="414.51" stroke="#808080" stroke-width="0.85" />
<line x1="38.5" y1="414.51" x2="239.75" y2="414.51" stroke="#808080" stroke-width="0.85" />
<line x1="38.5" y1="414.51" x2="40.7" y2="414.51" stroke="#808080" stroke-width="0.8" />
<text class="se" x="33.2" y="417.21" font-size="7.2" text-anchor="end" fill="#111" >1850</text>
<line x1="38.5" y1="392.93" x2="40.7" y2="392.93" stroke="#808080" stroke-width="0.8" />
<text class="se" x="33.2" y="395.62" font-size="7.2" text-anchor="end" fill="#111" >1900</text>
<line x1="38.5" y1="371.34" x2="40.7" y2="371.34" stroke="#808080" stroke-width="0.8" />
<text class="se" x="33.2" y="374.04" font-size="7.2" text-anchor="end" fill="#111" >1950</text>
<line x1="38.5" y1="349.75" x2="40.7" y2="349.75" stroke="#808080" stroke-width="0.8" />
<text class="se" x="33.2" y="352.45" font-size="7.2" text-anchor="end" fill="#111" >2000</text>
<line x1="38.5" y1="328.17" x2="40.7" y2="328.17" stroke="#808080" stroke-width="0.8" />
<text class="se" x="33.2" y="330.87" font-size="7.2" text-anchor="end" fill="#111" >2050</text>
<line x1="38.5" y1="306.58" x2="40.7" y2="306.58" stroke="#808080" stroke-width="0.8" />
<text class="se" x="33.2" y="309.28" font-size="7.2" text-anchor="end" fill="#111" >2100</text>
<line x1="38.5" y1="285" x2="40.7" y2="285" stroke="#808080" stroke-width="0.8" />
<text class="se" x="33.2" y="287.7" font-size="7.2" text-anchor="end" fill="#111" >2150</text>
<line x1="38.5" y1="414.51" x2="38.5" y2="412.31" stroke="#808080" stroke-width="0.8" />
<text class="se" x="38.5" y="425.4" font-size="7.2" text-anchor="middle" fill="#111" >0</text>
<line x1="78.75" y1="414.51" x2="78.75" y2="412.31" stroke="#808080" stroke-width="0.8" />
<text class="se" x="78.75" y="425.4" font-size="7.2" text-anchor="middle" fill="#111" >20</text>
<line x1="119" y1="414.51" x2="119" y2="412.31" stroke="#808080" stroke-width="0.8" />
<text class="se" x="119" y="425.4" font-size="7.2" text-anchor="middle" fill="#111" >40</text>
<line x1="139.12" y1="414.51" x2="139.12" y2="412.31" stroke="#808080" stroke-width="0.8" />
<text class="se" x="139.12" y="425.4" font-size="7.2" text-anchor="middle" fill="#111" >50</text>
<line x1="159.25" y1="414.51" x2="159.25" y2="412.31" stroke="#808080" stroke-width="0.8" />
<text class="se" x="159.25" y="425.4" font-size="7.2" text-anchor="middle" fill="#111" >60</text>
<line x1="199.5" y1="414.51" x2="199.5" y2="412.31" stroke="#808080" stroke-width="0.8" />
<text class="se" x="199.5" y="425.4" font-size="7.2" text-anchor="middle" fill="#111" >80</text>
<line x1="239.75" y1="414.51" x2="239.75" y2="412.31" stroke="#808080" stroke-width="0.8" />
<text class="se" x="239.75" y="425.4" font-size="7.2" text-anchor="middle" fill="#111" >100</text>
<text class="se" x="146.9" y="435.2" font-size="8.45" text-anchor="middle" fill="#111" >Percentage of medium particles (%)</text>
<text class="se" transform="translate(16.5,349) rotate(-90)" font-size="8.45" text-anchor="middle" fill="#111">Maximum dry density (kg/m<tspan font-size="5.5" dy="-2.6">3</tspan><tspan dy="2.6">)</tspan></text>
<line x1="38.5" y1="298.18" x2="139.12" y2="298.18" stroke="#333" stroke-width="1" stroke-dasharray="3.3 1.9"/>
<line x1="139.12" y1="298.18" x2="139.12" y2="414.51" stroke="#333" stroke-width="1" stroke-dasharray="3.3 1.9"/>
<polyline points="58.62,324.28 78.75,318.67 98.88,311.77 119,303.99 139.12,298.18 159.25,300.97 179.38,316.95 199.5,351.48 219.63,393.79" fill="none" stroke="#555" stroke-width="0.8" />
<rect x="56.88" y="322.53" width="3.5" height="3.5" fill="none" stroke="#555" stroke-width="0.7"/>
<rect x="77" y="316.92" width="3.5" height="3.5" fill="none" stroke="#555" stroke-width="0.7"/>
<rect x="97.12" y="310.02" width="3.5" height="3.5" fill="none" stroke="#555" stroke-width="0.7"/>
<rect x="117.25" y="302.24" width="3.5" height="3.5" fill="none" stroke="#555" stroke-width="0.7"/>
<rect x="137.38" y="296.43" width="3.5" height="3.5" fill="none" stroke="#555" stroke-width="0.7"/>
<rect x="157.5" y="299.22" width="3.5" height="3.5" fill="none" stroke="#555" stroke-width="0.7"/>
<rect x="177.62" y="315.2" width="3.5" height="3.5" fill="none" stroke="#555" stroke-width="0.7"/>
<rect x="197.75" y="349.73" width="3.5" height="3.5" fill="none" stroke="#555" stroke-width="0.7"/>
<rect x="217.88" y="392.04" width="3.5" height="3.5" fill="none" stroke="#555" stroke-width="0.7"/>
<ellipse cx="0" cy="0" rx="59.5" ry="9.6" transform="translate(101.8,308) rotate(-21.5)" fill="none" stroke="#222" stroke-width="1.1" stroke-dasharray="4 2.6"/>
<text class="se" x="144.2" y="292.4" font-size="7.0" text-anchor="middle" fill="#111" >2119.47</text>
<line x1="125.5" y1="315.5" x2="266.89" y2="338.44" stroke="#111" stroke-width="1.2" />
<polygon points="273.4,339.5 266.42,341.31 267.35,335.58" fill="#111" stroke="none" stroke-width="1" />
</g>
<g id="particles">
<clipPath id="clip0"><rect x="280.5" y="283.6" width="143.2" height="138.6"/></clipPath>
<rect x="280.5" y="283.6" width="143.2" height="138.6" fill="#fff"/>
<g clip-path="url(#clip0)">
<g fill="#5b9bd5" stroke="#386a9a" stroke-width="0.6">
<circle cx="356.8" cy="286.5" r="4.3"/>
<circle cx="283.5" cy="286.9" r="4.43"/>
<circle cx="292.1" cy="285.2" r="4.09"/>
<circle cx="300.6" cy="285.2" r="4.09"/>
<circle cx="307.9" cy="289.6" r="4.43"/>
<circle cx="290" cy="295.1" r="4.61"/>
<circle cx="298.9" cy="294.5" r="4.43"/>
<circle cx="281.8" cy="298.1" r="3.75"/>
<circle cx="286.1" cy="306.1" r="4.43"/>
<circle cx="295.8" cy="303.6" r="4.43"/>
<circle cx="305" cy="303.2" r="4.43"/>
<circle cx="286.9" cy="316.9" r="4.43"/>
<circle cx="297.2" cy="313.8" r="4.43"/>
<circle cx="307.8" cy="313.8" r="4.09"/>
<circle cx="350.76" cy="334.96" r="4.65"/>
<circle cx="332.63" cy="400.41" r="4.51"/>
<circle cx="339.47" cy="410.04" r="4.39"/>
<circle cx="371.61" cy="356.12" r="4.54"/>
<circle cx="355.63" cy="380.48" r="4.4"/>
<circle cx="416.72" cy="401.89" r="4.27"/>
<circle cx="346.73" cy="386.9" r="4.6"/>
<circle cx="355.35" cy="347.36" r="4.35"/>
<circle cx="358.12" cy="368.05" r="4.72"/>
<circle cx="416.08" cy="422.15" r="4.45"/>
<circle cx="365.98" cy="388.32" r="4.42"/>
<circle cx="328.44" cy="421.12" r="4.45"/>
<circle cx="333.83" cy="391.63" r="4.42"/>
<circle cx="353.92" cy="394.07" r="4.74"/>
<circle cx="372.06" cy="373.2" r="4.66"/>
<circle cx="347.87" cy="418.93" r="4.61"/>
<circle cx="319.4" cy="412.97" r="4.39"/>
<circle cx="408.59" cy="403.18" r="4.69"/>
<circle cx="413.28" cy="411.28" r="4.43"/>
<circle cx="381.2" cy="355.67" r="4.54"/>
<circle cx="349.01" cy="409.51" r="4.51"/>
<circle cx="347.38" cy="364.55" r="4.29"/>
<circle cx="319.73" cy="403.9" r="4.38"/>
<circle cx="378.54" cy="366.68" r="4.73"/>
<circle cx="340.1" cy="336.51" r="4.58"/>
<circle cx="359.55" cy="354.19" r="4.67"/>
<circle cx="339.14" cy="423.16" r="4.67"/>
<circle cx="339.05" cy="381.04" r="4.31"/>
<circle cx="346.13" cy="401.43" r="4.34"/>
<circle cx="351.32" cy="371.93" r="4.34"/>
<circle cx="314.02" cy="395.84" r="4.67"/>
<circle cx="342.61" cy="373.16" r="4.66"/>
<circle cx="340.72" cy="395.49" r="4.38"/>
<circle cx="362.7" cy="375.55" r="4.53"/>
<circle cx="422.05" cy="415.76" r="4.58"/>
<circle cx="381.08" cy="380.45" r="4.4"/>
<circle cx="373.98" cy="384.29" r="4.47"/>
<circle cx="347.83" cy="354.58" r="4.45"/>
<circle cx="348.69" cy="326.09" r="4.62"/>
<circle cx="424.28" cy="402.21" r="4.35"/>
<circle cx="325.34" cy="395.87" r="4.33"/>
<circle cx="312.11" cy="421" r="4.27"/>
<circle cx="365.47" cy="361.21" r="4.33"/>
<circle cx="306.27" cy="394.62" r="4.26"/>
<circle cx="408.25" cy="422.77" r="4.49"/>
<circle cx="362.71" cy="343.42" r="4.64"/>
<circle cx="347.84" cy="344.14" r="4.49"/>
<circle cx="330.45" cy="410.23" r="4.32"/>
<circle cx="325.61" cy="388.34" r="4.26"/>
<circle cx="354.01" cy="360.82" r="4.44"/>
<circle cx="320.09" cy="421.06" r="4.4"/>
<circle cx="354.44" cy="403.22" r="4.41"/>
<circle cx="312.68" cy="407.87" r="4.31"/>
<circle cx="348.05" cy="379.05" r="4.42"/>
<circle cx="358.71" cy="336.35" r="4.31"/>
<circle cx="354.48" cy="423.01" r="4.39"/>
<circle cx="386.06" cy="361.98" r="4.44"/>
<circle cx="369.1" cy="348.06" r="4.35"/>
<circle cx="424.6" cy="423.2" r="4.35"/>
<circle cx="335.62" cy="416.37" r="4.2"/>
<circle cx="279.73" cy="324.02" r="4.03"/>
<circle cx="331.45" cy="383.95" r="4.08"/>
<circle cx="383.68" cy="372.43" r="3.81"/>
<circle cx="371.2" cy="366.04" r="3.36"/>
<circle cx="367.55" cy="380.97" r="3.64"/>
</g>
<circle cx="333" cy="302.7" r="23" fill="#a5a5a5" stroke="#7b7b7b" stroke-width="0.6"/>
<circle cx="410.2" cy="374.5" r="23" fill="#a5a5a5" stroke="#7b7b7b" stroke-width="0.6"/>
<circle cx="380.9" cy="413.2" r="23.4" fill="#a5a5a5" stroke="#7b7b7b" stroke-width="0.6"/>
<circle cx="286.1" cy="412.8" r="23" fill="#a5a5a5" stroke="#7b7b7b" stroke-width="0.6"/>
<circle cx="397.8" cy="312.1" r="41.8" fill="#ed7d31" stroke="#b35e22" stroke-width="0.6"/>
<circle cx="304.5" cy="354.9" r="35.4" fill="#ed7d31" stroke="#b35e22" stroke-width="0.6"/>
</g>
<rect x="280.5" y="283.6" width="143.2" height="138.6" fill="none" stroke="#1a1a1a" stroke-width="1.2"/>
<circle cx="361.6" cy="365.6" r="25.2" fill="none" stroke="#000" stroke-width="2.2" stroke-dasharray="8.2 4.5" stroke-dashoffset="2"/>
<clipPath id="clip253"><rect x="533.5" y="280.3" width="143.2" height="138.6"/></clipPath>
<rect x="533.5" y="280.3" width="143.2" height="138.6" fill="#fff"/>
<g clip-path="url(#clip253)">
<g fill="#5b9bd5" stroke="#386a9a" stroke-width="0.6">
<circle cx="536.5" cy="283.6" r="4.43"/>
<circle cx="545.1" cy="281.9" r="4.09"/>
<circle cx="553.6" cy="281.9" r="4.09"/>
<circle cx="560.9" cy="286.3" r="4.43"/>
<circle cx="543" cy="291.8" r="4.61"/>
<circle cx="551.9" cy="291.2" r="4.43"/>
<circle cx="534.8" cy="294.8" r="3.75"/>
<circle cx="539.1" cy="302.8" r="4.43"/>
<circle cx="548.8" cy="300.3" r="4.43"/>
<circle cx="558" cy="299.9" r="4.43"/>
<circle cx="539.9" cy="313.6" r="4.43"/>
<circle cx="550.2" cy="310.5" r="4.43"/>
<circle cx="560.8" cy="310.5" r="4.09"/>
<circle cx="609.8" cy="283.2" r="4.3"/>
<circle cx="642.7" cy="353.5" r="3.6"/>
<circle cx="639.3" cy="382.5" r="3.4"/>
<circle cx="612.7" cy="392.7" r="3.3"/>
<circle cx="603.27" cy="411.72" r="4.74"/>
<circle cx="580.98" cy="383.1" r="4.27"/>
<circle cx="585.71" cy="407.5" r="4.47"/>
<circle cx="564.72" cy="390.84" r="4.68"/>
<circle cx="670.5" cy="403.45" r="4.61"/>
<circle cx="577.63" cy="397.3" r="4.5"/>
<circle cx="663.94" cy="412.72" r="4.61"/>
<circle cx="600.18" cy="403.31" r="4.74"/>
<circle cx="674.1" cy="419.31" r="4.4"/>
<circle cx="608.41" cy="335.03" r="4.43"/>
<circle cx="584.85" cy="417.31" r="4.61"/>
<circle cx="569.88" cy="403.82" r="4.66"/>
<circle cx="588.35" cy="392.44" r="4.71"/>
<circle cx="600.3" cy="326.76" r="4.31"/>
<circle cx="564.89" cy="418.15" r="4.64"/>
<circle cx="597.13" cy="388.3" r="4.52"/>
<circle cx="593.05" cy="413.54" r="4.71"/>
<circle cx="600.49" cy="340.74" r="4.4"/>
<circle cx="593.22" cy="332.39" r="4.26"/>
<circle cx="591.57" cy="401.86" r="4.46"/>
<circle cx="671.79" cy="411.24" r="4.25"/>
<circle cx="662.41" cy="398.45" r="4.58"/>
<circle cx="587.51" cy="378.64" r="4.31"/>
<circle cx="577.97" cy="409.19" r="4.47"/>
<circle cx="573.54" cy="388.76" r="4.75"/>
<circle cx="574.8" cy="417.47" r="4.69"/>
<circle cx="605.03" cy="395.69" r="4.37"/>
<circle cx="606.78" cy="419.45" r="4.34"/>
<circle cx="605.79" cy="318.57" r="4.71"/>
<circle cx="676.09" cy="397.53" r="4.7"/>
<circle cx="660.24" cy="419.88" r="4.51"/>
<circle cx="599.04" cy="419.51" r="4.58"/>
<circle cx="608.17" cy="326.99" r="4.38"/>
<circle cx="569.57" cy="411.63" r="4.33"/>
<circle cx="588.16" cy="326.74" r="4.37"/>
<circle cx="596.66" cy="396.34" r="4.26"/>
<circle cx="564" cy="398.92" r="4.05"/>
<circle cx="590.99" cy="384.78" r="3.61"/>
<circle cx="580.67" cy="390.7" r="3.64"/>
<circle cx="614.91" cy="338.05" r="3.86"/>
<circle cx="557.51" cy="390.51" r="3.53"/>
<circle cx="661.56" cy="405.8" r="3.4"/>
<circle cx="584.3" cy="399.21" r="3.52"/>
<circle cx="601.29" cy="333.83" r="3.16"/>
</g>
<circle cx="586" cy="299.4" r="23" fill="#a5a5a5" stroke="#7b7b7b" stroke-width="0.6"/>
<circle cx="663.2" cy="371.2" r="23" fill="#a5a5a5" stroke="#7b7b7b" stroke-width="0.6"/>
<circle cx="633.9" cy="409.9" r="23.4" fill="#a5a5a5" stroke="#7b7b7b" stroke-width="0.6"/>
<circle cx="539.1" cy="409.5" r="23" fill="#a5a5a5" stroke="#7b7b7b" stroke-width="0.6"/>
<circle cx="615.5" cy="366.3" r="24.3" fill="#a5a5a5" stroke="#7b7b7b" stroke-width="0.6"/>
<circle cx="650.8" cy="308.8" r="41.8" fill="#ed7d31" stroke="#b35e22" stroke-width="0.6"/>
<circle cx="557.5" cy="351.6" r="35.4" fill="#ed7d31" stroke="#b35e22" stroke-width="0.6"/>
</g>
<rect x="533.5" y="280.3" width="143.2" height="138.6" fill="none" stroke="#1a1a1a" stroke-width="1.2"/>
<path d="M373.4 343.7C376.83 341 386.23 332.37 394 327.5C401.77 322.63 411 318.08 420 314.5C429 310.92 438.17 308 448 306C457.83 304 469 302.83 479 302.5C489 302.17 499.07 302.97 508 304C516.93 305.03 525.78 306.7 532.6 308.7C539.42 310.7 541.63 312.23 548.9 316C556.17 319.77 568.8 326.18 576.2 331.3C583.6 336.42 589.18 342.95 593.3 346.7C597.42 350.45 599.63 352.62 600.9 353.8" fill="none" stroke="#111" stroke-width="0.9"/>
<line x1="600.9" y1="353.8" x2="598.76" y2="348.73" stroke="#111" stroke-width="0.9" />
<line x1="600.9" y1="353.8" x2="595.7" y2="352.01" stroke="#111" stroke-width="0.9" />
</g>
<g id="misc">
<line x1="0.5" y1="259.7" x2="685" y2="259.7" stroke="#333" stroke-width="1.75" stroke-dasharray="10.8 4.5"/>
<line x1="352.1" y1="6" x2="352.1" y2="260.5" stroke="#333" stroke-width="1.75" stroke-dasharray="10.9 4.37" stroke-dashoffset="1.87"/>
<text class="se" x="164" y="229.8" font-size="14.8" text-anchor="middle" fill="#111" >Values of maximum dry density</text>
<text class="se" x="166" y="247.3" font-size="14.8" text-anchor="middle" fill="#111" >obtained by DEM</text>
<text class="se" x="539.2" y="230.5" font-size="14.8" text-anchor="middle" fill="#111" >Triangular contour diagram of</text>
<text class="se" x="539" y="247.4" font-size="14.8" text-anchor="middle" fill="#111" >maximum dry density</text>
<text class="se" x="335.8" y="464.6" font-size="14.8" text-anchor="middle" fill="#111" >Diagram of particle interactions</text>
<text class="se" x="477.5" y="347.5" font-size="11.9" text-anchor="middle" fill="#111" word-spacing="2">Voids between small</text>
<text class="se" x="477.5" y="362.55" font-size="11.9" text-anchor="middle" fill="#111" word-spacing="2">particles were</text>
<text class="se" x="477.5" y="377.6" font-size="11.9" text-anchor="middle" fill="#111" word-spacing="2">replaced by solid</text>
<text class="se" x="477.5" y="392.65" font-size="11.9" text-anchor="middle" fill="#111" word-spacing="2">particles</text>
</g>
</svg>
</body></html>
